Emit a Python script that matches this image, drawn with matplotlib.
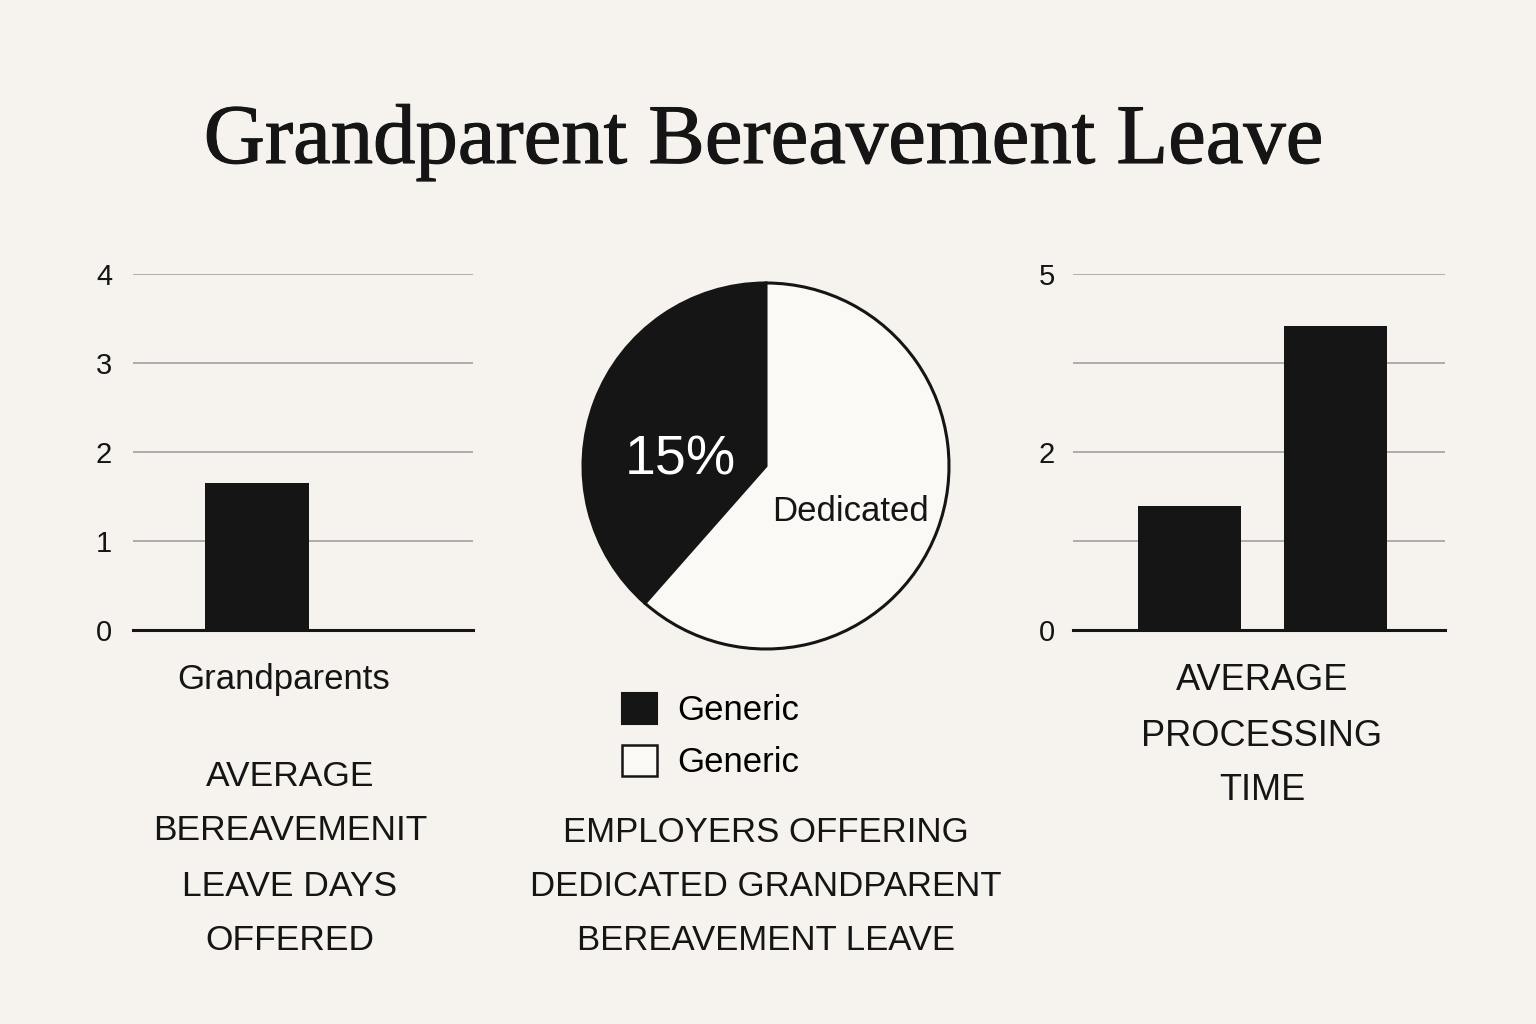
import matplotlib
matplotlib.use("Agg")
import matplotlib.pyplot as plt
import matplotlib.patheffects as pe
from matplotlib.patches import Patch

BG = "#f6f3ee"
INK = "#151515"
GRID = "#9a9a9a"
SANS = "Liberation Sans"
SERIF = "Liberation Serif"

# data
left_categories = ["Grandparents"]
left_values = [1.65]
left_ticks = [0, 1, 2, 3, 4]
left_ticklabels = ["0", "1", "2", "3", "4"]

pie_labels = ["15%", "Dedicated"]
pie_shares = [38.5, 61.5]
legend_labels = ["Generic", "Generic"]

right_values = [1.39, 3.42]
right_ticks = [0, 1, 2, 3, 4]
right_ticklabels = ["0", "", "2", "", "5"]

left_caption = ["AVERAGE", "BEREAVEMENIT", "LEAVE DAYS", "OFFERED"]
pie_caption = ["EMPLOYERS OFFERING", "DEDICATED GRANDPARENT", "BEREAVEMENT LEAVE"]
right_caption = ["AVERAGE", "PROCESSING", "TIME"]

W, H = 1536, 1024
fig = plt.figure(figsize=(W / 100, H / 100), dpi=100, facecolor=BG)


def fx(px):
    return px / W


def fy(py):
    return 1 - py / H


def style_bar_axes(ax, ticks, ticklabels, pad):
    ax.set_facecolor("none")
    ax.set_ylim(0, 4)
    ax.set_yticks(ticks)
    ax.set_yticklabels(ticklabels, fontsize=21, family=SANS, color=INK)
    ax.tick_params(axis="y", length=0, pad=pad)
    ax.set_xticks([])
    for s in ["top", "right", "left"]:
        ax.spines[s].set_visible(False)
    ax.spines["bottom"].set_linewidth(2.2)
    ax.spines["bottom"].set_color(INK)
    ax.grid(axis="y", color=GRID, linewidth=1.1)
    ax.set_axisbelow(True)


fig.text(fx(764), fy(163), "Grandparent Bereavement Leave", ha="center", va="baseline",
         fontsize=61, family=SERIF, color=INK,
         path_effects=[pe.withStroke(linewidth=0.8, foreground=INK)])

# left bar chart
ax1 = fig.add_axes([fx(133), fy(630), fx(340), (630 - 274) / H])
ax1.bar(range(len(left_values)), left_values, width=0.6, color=INK, zorder=3)
ax1.set_xlim(-0.716, 1.245)
style_bar_axes(ax1, left_ticks, left_ticklabels, 15)
fig.text(fx(284), fy(679), left_categories[0], ha="center", va="center",
         fontsize=25, family=SANS, color=INK)

# pie
r = 183
ax2 = fig.add_axes([fx(766 - 1.25 * r), fy(466 + 1.25 * r), fx(2.5 * r), 2.5 * r / H])
ax2.set_facecolor("none")
wedges, _ = ax2.pie(pie_shares, colors=[INK, "#fbf9f6"], startangle=90, counterclock=True,
                    wedgeprops=dict(edgecolor=INK, linewidth=2.2))
ax2.text(-0.47, 0.03, pie_labels[0], ha="center", va="center", fontsize=40,
         family=SANS, color="white")
ax2.text(0.46, -0.25, pie_labels[1], ha="center", va="center", fontsize=25,
         family=SANS, color=INK)

handles = [Patch(facecolor=INK, edgecolor=INK, linewidth=1.5),
           Patch(facecolor="#fbf9f6", edgecolor=INK, linewidth=1.8)]
fig.legend(handles, legend_labels, loc="upper left", bbox_to_anchor=(fx(622), fy(693)),
           frameon=False, prop={"family": SANS, "size": 25}, handlelength=1.0,
           handleheight=1.0, handletextpad=0.6, labelspacing=0.5, borderpad=0,
           borderaxespad=0)

# right bar chart
ax3 = fig.add_axes([fx(1073), fy(630), fx(372), (630 - 274) / H])
ax3.bar(range(len(right_values)), right_values, width=0.705, color=INK, zorder=3)
ax3.set_xlim(-0.80, 1.75)
style_bar_axes(ax3, right_ticks, right_ticklabels, 13)

# captions
for i, line in enumerate(left_caption):
    fig.text(fx(290), fy(776 + 55 * i), line, ha="center", va="center",
             fontsize=25.5, family=SANS, color=INK)
for i, line in enumerate(pie_caption):
    fig.text(fx(766), fy(832 + 54 * i), line, ha="center", va="center",
             fontsize=25, family=SANS, color=INK)
for i, line in enumerate(right_caption):
    fig.text(fx(1262), fy(681 + 55 * i), line, ha="center", va="center",
             fontsize=26, family=SANS, color=INK)

fig.savefig("out.png", dpi=100, facecolor=BG)
